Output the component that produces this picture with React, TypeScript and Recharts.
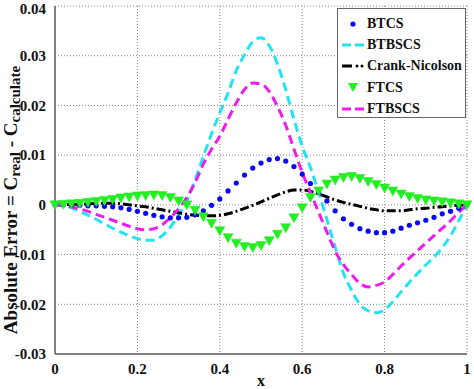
import { LineChart, Line, XAxis, YAxis, CartesianGrid } from "recharts";

const xValues = [
  0, 0.02, 0.04, 0.06, 0.08, 0.1, 0.12, 0.14, 0.16, 0.18,
  0.2, 0.22, 0.24, 0.26, 0.28, 0.3, 0.32, 0.34, 0.36, 0.38,
  0.4, 0.42, 0.44, 0.46, 0.48, 0.5, 0.52, 0.54, 0.56, 0.58,
  0.6, 0.62, 0.64, 0.66, 0.68, 0.7, 0.72, 0.74, 0.76, 0.78,
  0.8, 0.82, 0.84, 0.86, 0.88, 0.9, 0.92, 0.94, 0.96, 0.98, 1,
];

const btcs = [
  0, 0, -0.0001, -0.0001, -0.0002, -0.0002, -0.0003, -0.0004, -0.0006, -0.0009,
  -0.0013, -0.0017, -0.0021, -0.0024, -0.0026, -0.0026, -0.0025, -0.002, -0.0012, -0.0001,
  0.0012, 0.0028, 0.0044, 0.006, 0.0074, 0.0084, 0.0091, 0.0093, 0.0088, 0.0077,
  0.0062, 0.0043, 0.0025, 0.0008, -0.0012, -0.0028, -0.0039, -0.0048, -0.0053, -0.0056,
  -0.0056, -0.0053, -0.0047, -0.0041, -0.0036, -0.0031, -0.0025, -0.0018, -0.0013, -0.0007, 0,
];

const btbscs = [
  0, -0.0002, -0.0006, -0.0013, -0.0021, -0.0029, -0.0038, -0.0047, -0.0055, -0.0062,
  -0.0068, -0.0071, -0.0071, -0.0062, -0.0045, -0.002, 0.0008, 0.005, 0.0097, 0.0143,
  0.0185, 0.0225, 0.027, 0.0302, 0.0328, 0.0336, 0.032, 0.0283, 0.0232, 0.0172,
  0.0118, 0.0075, 0.0025, -0.003, -0.0085, -0.0137, -0.0172, -0.02, -0.0213, -0.0217,
  -0.0211, -0.0195, -0.0175, -0.0156, -0.0138, -0.0121, -0.0105, -0.0086, -0.0062, -0.0032, 0,
];

const crankNicolson = [
  0, 0, 0.0001, 0.0001, 0.0002, 0.0003, 0.0003, 0.0003, 0.0002, 0,
  -0.0002, -0.0004, -0.0007, -0.001, -0.0013, -0.0016, -0.0019, -0.0021, -0.0022, -0.0022,
  -0.0021, -0.0018, -0.0013, -0.0007, -0.0001, 0.0006, 0.0013, 0.002, 0.0026, 0.003,
  0.003, 0.0027, 0.0022, 0.0016, 0.001, 0.0005, 0.0001, -0.0003, -0.0007, -0.001,
  -0.0012, -0.0012, -0.0012, -0.001, -0.0008, -0.0007, -0.0005, -0.0004, -0.0002, -0.0001, 0,
];

const ftcs = [
  0, 0.0001, 0.0002, 0.0003, 0.0005, 0.0007, 0.0009, 0.0011, 0.0014, 0.0016,
  0.0018, 0.0019, 0.002, 0.0019, 0.0015, 0.0008, 0, -0.0011, -0.0024, -0.0037,
  -0.0052, -0.0066, -0.0077, -0.0084, -0.0086, -0.0082, -0.0072, -0.0059, -0.0046, -0.0026,
  -0.0006, 0.0015, 0.0028, 0.0042, 0.005, 0.0055, 0.0057, 0.0053, 0.0047, 0.0041,
  0.0034, 0.0028, 0.0022, 0.0017, 0.0013, 0.001, 0.0008, 0.0006, 0.0004, 0.0002, 0,
];

const ftbscs = [
  0, -0.0001, -0.0004, -0.0008, -0.0013, -0.0019, -0.0025, -0.0031, -0.0037, -0.0043,
  -0.0048, -0.005, -0.0048, -0.004, -0.0026, -0.0008, 0.0015, 0.0045, 0.0082, 0.0112,
  0.0138, 0.0172, 0.0205, 0.0232, 0.0245, 0.0243, 0.0228, 0.0198, 0.016, 0.0112,
  0.0065, 0.0025, -0.0015, -0.0055, -0.0093, -0.012, -0.014, -0.0158, -0.0165, -0.0162,
  -0.0155, -0.014, -0.0123, -0.0107, -0.0092, -0.0077, -0.0062, -0.0047, -0.0032, -0.0015, 0,
];

const xTicks = [0, 0.2, 0.4, 0.6, 0.8, 1];
const yTicks = [-0.03, -0.02, -0.01, 0, 0.01, 0.02, 0.03, 0.04];

const legendNames = ["BTCS", "BTBSCS", "Crank-Nicolson", "FTCS", "FTBSCS"];

const data = xValues.map((x, i) => ({
  x,
  btcs: btcs[i],
  btbscs: btbscs[i],
  crank: crankNicolson[i],
  ftcs: ftcs[i],
  ftbscs: ftbscs[i],
}));

const FONT = '"Liberation Serif", "DejaVu Serif", "Times New Roman", Times, serif';
const BLUE = "#0a0af0";
const CYAN = "#22e4f0";
const MAGENTA = "#ec1eec";
const GREEN = "#22ee22";

const fmtY = (v: number) => (v === 0 ? "0" : v.toFixed(2));
const fmtX = (v: number) => String(v);

const Triangle = (props: any) => {
  const { cx, cy, index } = props;
  if (cx == null || cy == null) return null;
  return (
    <path
      key={`tri-${index}`}
      d={`M${cx - 5},${cy - 4} L${cx + 5},${cy - 4} L${cx},${cy + 5} Z`}
      fill={GREEN}
      stroke={GREEN}
      strokeWidth={0.5}
    />
  );
};

const Dot = (props: any) => {
  const { cx, cy, index } = props;
  if (cx == null || cy == null) return null;
  return <circle key={`dot-${index}`} cx={cx} cy={cy} r={2.6} fill={BLUE} />;
};

const YLabel = () => (
  <text
    x={200}
    y={17}
    transform="rotate(-90, 200, 200)"
    textAnchor="middle"
    fontFamily={FONT}
    fontWeight="bold"
    fontSize={19}
    fill="#111"
  >
    Absolute Error = C
    <tspan baselineShift="-3" fontSize={15}>real</tspan>
    <tspan> - C</tspan>
    <tspan baselineShift="-3" fontSize={15}>calculate</tspan>
  </text>
);

const XLabel = () => (
  <text
    x={261}
    y={386}
    textAnchor="middle"
    fontFamily={FONT}
    fontWeight="bold"
    fontSize={16}
    fill="#111"
  >
    x
  </text>
);

const LegendIcon = ({ idx }: { idx: number }) => {
  if (idx === 0) return <circle cx={12} cy={7} r={2.6} fill={BLUE} />;
  if (idx === 1) return <line x1={1} y1={7} x2={24} y2={7} stroke={CYAN} strokeWidth={3} strokeDasharray="9 4" />;
  if (idx === 2)
    return (
      <g>
        <line x1={1} y1={7} x2={11} y2={7} stroke="#000" strokeWidth={3} />
        <circle cx={16} cy={7} r={1.5} fill="#000" />
        <circle cx={21} cy={7} r={1.5} fill="#000" />
      </g>
    );
  if (idx === 3) return <path d="M7,2 L17,2 L12,11 Z" fill={GREEN} />;
  return <line x1={1} y1={7} x2={24} y2={7} stroke={MAGENTA} strokeWidth={3} strokeDasharray="9 4" />;
};

const App = () => {
  return (
    <div style={{ position: "relative", width: 474, height: 389, background: "#fff" }}>
      <style>{`body{margin:0;}`}</style>
      <LineChart
        width={474}
        height={389}
        data={data}
        margin={{ top: 6, right: 7, left: 0, bottom: 0 }}
      >
        <CartesianGrid stroke="#888" strokeDasharray="1 2" strokeWidth={1} />
        <XAxis
          dataKey="x"
          type="number"
          domain={[0, 1]}
          ticks={xTicks}
          tickFormatter={fmtX}
          height={35}
          tickLine={false}
          axisLine={{ stroke: "#808080", strokeWidth: 2 }}
          tick={{ fontFamily: FONT, fontWeight: "bold", fontSize: 15, fill: "#111" }}
          tickMargin={3}
          label={<XLabel />}
        />
        <YAxis
          type="number"
          domain={[-0.03, 0.04]}
          ticks={yTicks}
          tickFormatter={fmtY}
          width={55}
          tickLine={false}
          axisLine={{ stroke: "#808080", strokeWidth: 2 }}
          tick={{ fontFamily: FONT, fontWeight: "bold", fontSize: 15, fill: "#111" }}
          tickMargin={3}
          label={<YLabel />}
        />
        <Line
          dataKey="btcs"
          stroke="none"
          dot={Dot}
          activeDot={false}
          isAnimationActive={false}
        />
        <Line
          type="monotone"
          dataKey="btbscs"
          stroke={CYAN}
          strokeWidth={3}
          strokeDasharray="9 5"
          dot={false}
          activeDot={false}
          isAnimationActive={false}
        />
        <Line
          type="monotone"
          dataKey="crank"
          stroke="#000"
          strokeWidth={3}
          strokeDasharray="9 3 2 3"
          dot={false}
          activeDot={false}
          isAnimationActive={false}
        />
        <Line
          dataKey="ftcs"
          stroke="none"
          dot={Triangle}
          activeDot={false}
          isAnimationActive={false}
        />
        <Line
          type="monotone"
          dataKey="ftbscs"
          stroke={MAGENTA}
          strokeWidth={3}
          strokeDasharray="9 5"
          dot={false}
          activeDot={false}
          isAnimationActive={false}
        />
      </LineChart>
      <div
        style={{
          position: "absolute",
          left: 337,
          top: 8,
          width: 129,
          height: 110,
          boxSizing: "border-box",
          border: "1px solid #666",
          background: "#fff",
          padding: "4px 0 0 3px",
          fontFamily: FONT,
          fontWeight: "bold",
          fontSize: 14,
          color: "#111",
        }}
      >
        {legendNames.map((name, i) => (
          <div key={name} style={{ display: "flex", alignItems: "center", height: 21.3 }}>
            <svg width={25} height={14} style={{ marginRight: 1 }}>
              <LegendIcon idx={i} />
            </svg>
            <span>{name}</span>
          </div>
        ))}
      </div>
    </div>
  );
};

export default App;
